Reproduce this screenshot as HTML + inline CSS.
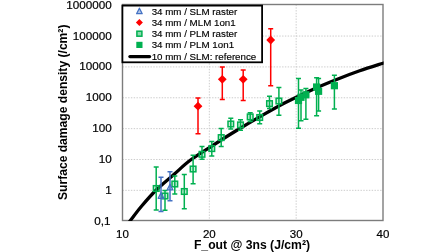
<!DOCTYPE html><html><head><meta charset="utf-8"><style>html,body{margin:0;padding:0;background:#fff}svg{display:block}text{font-family:"Liberation Sans",Arial,sans-serif}</style></head><body>
<svg width="448" height="252" viewBox="0 0 448 252">
<rect width="448" height="252" fill="#fff"/>
<line x1="122.5" x2="383.0" y1="190.34" y2="190.34" stroke="#c6c6c6" stroke-width="0.9" stroke-dasharray="1.4 1.4"/>
<line x1="122.5" x2="383.0" y1="159.49" y2="159.49" stroke="#c6c6c6" stroke-width="0.9" stroke-dasharray="1.4 1.4"/>
<line x1="122.5" x2="383.0" y1="128.63" y2="128.63" stroke="#c6c6c6" stroke-width="0.9" stroke-dasharray="1.4 1.4"/>
<line x1="122.5" x2="383.0" y1="97.77" y2="97.77" stroke="#c6c6c6" stroke-width="0.9" stroke-dasharray="1.4 1.4"/>
<line x1="122.5" x2="383.0" y1="66.91" y2="66.91" stroke="#c6c6c6" stroke-width="0.9" stroke-dasharray="1.4 1.4"/>
<line x1="122.5" x2="383.0" y1="36.06" y2="36.06" stroke="#c6c6c6" stroke-width="0.9" stroke-dasharray="1.4 1.4"/>
<line x1="209.33" x2="209.33" y1="4.5" y2="220.5" stroke="#c6c6c6" stroke-width="0.9" stroke-dasharray="1.4 1.4"/>
<line x1="296.17" x2="296.17" y1="4.5" y2="220.5" stroke="#c6c6c6" stroke-width="0.9" stroke-dasharray="1.4 1.4"/>
<rect x="122.5" y="4.5" width="260.5" height="216.0" fill="none" stroke="#7c7c7c" stroke-width="1.4"/>
<text x="110.6" y="224.70" font-size="11.7" text-anchor="end" fill="#000" stroke="#000" stroke-width="0.2">0,1</text>
<text x="111.7" y="193.84" font-size="11.7" text-anchor="end" fill="#000" stroke="#000" stroke-width="0.2">1</text>
<text x="111.7" y="162.99" font-size="11.7" text-anchor="end" fill="#000" stroke="#000" stroke-width="0.2">10</text>
<text x="111.7" y="132.13" font-size="11.7" text-anchor="end" fill="#000" stroke="#000" stroke-width="0.2">100</text>
<text x="111.7" y="101.27" font-size="11.7" text-anchor="end" fill="#000" stroke="#000" stroke-width="0.2">1000</text>
<text x="111.7" y="70.41" font-size="11.7" text-anchor="end" fill="#000" stroke="#000" stroke-width="0.2">10000</text>
<text x="111.7" y="39.56" font-size="11.7" text-anchor="end" fill="#000" stroke="#000" stroke-width="0.2">100000</text>
<text x="111.7" y="8.70" font-size="11.7" text-anchor="end" fill="#000" stroke="#000" stroke-width="0.2">1000000</text>
<text x="122.50" y="237.9" font-size="11.5" text-anchor="middle" fill="#000" stroke="#000" stroke-width="0.2">10</text>
<text x="209.33" y="237.9" font-size="11.5" text-anchor="middle" fill="#000" stroke="#000" stroke-width="0.2">20</text>
<text x="296.17" y="237.9" font-size="11.5" text-anchor="middle" fill="#000" stroke="#000" stroke-width="0.2">30</text>
<text x="383.00" y="237.9" font-size="11.5" text-anchor="middle" fill="#000" stroke="#000" stroke-width="0.2">40</text>
<text x="252" y="249.3" font-size="12.2" font-weight="bold" text-anchor="middle" fill="#000">F_out @ 3ns (J/cm²)</text>
<text transform="translate(66.9,112.3) rotate(-90)" font-size="12.1" font-weight="bold" text-anchor="middle" fill="#000">Surface damage density (/cm²)</text>
<clipPath id="pc"><rect x="122.5" y="4.5" width="261.1" height="216.5"/></clipPath>
<path d="M126.5,225.6 C127.15,224.75 127.93,223.68 130.4,220.5 C132.87,217.32 137.00,211.58 141.3,206.5 C145.60,201.42 150.68,195.42 156.2,190 C161.72,184.58 168.73,178.95 174.4,174 C180.07,169.05 184.03,164.92 190.2,160.3 C196.37,155.68 203.68,151.27 211.4,146.3 C219.12,141.33 228.53,135.37 236.5,130.5 C244.47,125.63 251.20,121.68 259.2,117.1 C267.20,112.52 275.75,107.53 284.5,103 C293.25,98.47 303.12,93.78 311.7,89.9 C320.28,86.02 328.00,82.88 336,79.7 C344.00,76.52 351.87,73.55 359.7,70.8 C367.53,68.05 377.95,64.83 383,63.2 C388.05,61.57 388.83,61.37 390,61" fill="none" stroke="#000" stroke-width="3.3" stroke-linejoin="round" clip-path="url(#pc)"/>
<path d="M156.2,167 V210 M153.7,167 H158.7 M153.7,210 H158.7" stroke="#00b050" stroke-width="1.5" fill="none"/>
<path d="M165,190.5 V210.2 M162.5,190.5 H167.5 M162.5,210.2 H167.5" stroke="#00b050" stroke-width="1.5" fill="none"/>
<path d="M174.8,176 V194 M172.3,176 H177.3 M172.3,194 H177.3" stroke="#00b050" stroke-width="1.5" fill="none"/>
<path d="M184.3,174.5 V208.8 M181.8,174.5 H186.8 M181.8,208.8 H186.8" stroke="#00b050" stroke-width="1.5" fill="none"/>
<path d="M193.1,155.2 V183.8 M190.6,155.2 H195.6 M190.6,183.8 H195.6" stroke="#00b050" stroke-width="1.5" fill="none"/>
<path d="M202,146.5 V159.3 M199.5,146.5 H204.5 M199.5,159.3 H204.5" stroke="#00b050" stroke-width="1.5" fill="none"/>
<path d="M211.8,141.5 V156 M209.3,141.5 H214.3 M209.3,156 H214.3" stroke="#00b050" stroke-width="1.5" fill="none"/>
<path d="M221.2,128.5 V146.5 M218.7,128.5 H223.7 M218.7,146.5 H223.7" stroke="#00b050" stroke-width="1.5" fill="none"/>
<path d="M230.8,118.2 V129 M228.3,118.2 H233.3 M228.3,129 H233.3" stroke="#00b050" stroke-width="1.5" fill="none"/>
<path d="M240.5,119.7 V130.2 M238.0,119.7 H243.0 M238.0,130.2 H243.0" stroke="#00b050" stroke-width="1.5" fill="none"/>
<path d="M250.2,112.8 V121.5 M247.7,112.8 H252.7 M247.7,121.5 H252.7" stroke="#00b050" stroke-width="1.5" fill="none"/>
<path d="M259.7,111 V123.8 M257.2,111 H262.2 M257.2,123.8 H262.2" stroke="#00b050" stroke-width="1.5" fill="none"/>
<path d="M269.5,96.2 V108.5 M267.0,96.2 H272.0 M267.0,108.5 H272.0" stroke="#00b050" stroke-width="1.5" fill="none"/>
<path d="M278.9,87.5 V115.2 M276.4,87.5 H281.4 M276.4,115.2 H281.4" stroke="#00b050" stroke-width="1.5" fill="none"/>
<path d="M161,177.3 V211.6 M158.5,177.3 H163.5 M158.5,211.6 H163.5" stroke="#4472c4" stroke-width="1.5" fill="none"/>
<path d="M170,171.7 V200.7 M167.5,171.7 H172.5 M167.5,200.7 H172.5" stroke="#4472c4" stroke-width="1.5" fill="none"/>
<path d="M298.5,78.6 V128.2 M296.0,78.6 H301.0 M296.0,128.2 H301.0" stroke="#00b050" stroke-width="1.5" fill="none"/>
<path d="M301,90 V120.8 M298.5,90 H303.5 M298.5,120.8 H303.5" stroke="#00b050" stroke-width="1.5" fill="none"/>
<path d="M305.9,88.6 V119.2 M303.4,88.6 H308.4 M303.4,119.2 H308.4" stroke="#00b050" stroke-width="1.5" fill="none"/>
<path d="M316.6,77.8 V115.7 M314.1,77.8 H319.1 M314.1,115.7 H319.1" stroke="#00b050" stroke-width="1.5" fill="none"/>
<path d="M318.6,78.6 V111 M316.1,78.6 H321.1 M316.1,111 H321.1" stroke="#00b050" stroke-width="1.5" fill="none"/>
<path d="M334.4,75.2 V109 M331.9,75.2 H336.9 M331.9,109 H336.9" stroke="#00b050" stroke-width="1.5" fill="none"/>
<path d="M198,98 V133.8 M195.5,98 H200.5 M195.5,133.8 H200.5" stroke="#ff0000" stroke-width="1.5" fill="none"/>
<path d="M222.3,67 V99.5 M219.8,67 H224.8 M219.8,99.5 H224.8" stroke="#ff0000" stroke-width="1.5" fill="none"/>
<path d="M243.2,70 V100.5 M240.7,70 H245.7 M240.7,100.5 H245.7" stroke="#ff0000" stroke-width="1.5" fill="none"/>
<path d="M270.7,28.8 V85.8 M268.2,28.8 H273.2 M268.2,85.8 H273.2" stroke="#ff0000" stroke-width="1.5" fill="none"/>
<rect x="153.40" y="185.70" width="5.6" height="5.6" fill="rgba(0,176,80,0.22)" stroke="#00b050" stroke-width="1.5"/>
<rect x="162.20" y="193.20" width="5.6" height="5.6" fill="rgba(0,176,80,0.22)" stroke="#00b050" stroke-width="1.5"/>
<rect x="172.00" y="181.20" width="5.6" height="5.6" fill="rgba(0,176,80,0.22)" stroke="#00b050" stroke-width="1.5"/>
<rect x="181.50" y="188.70" width="5.6" height="5.6" fill="rgba(0,176,80,0.22)" stroke="#00b050" stroke-width="1.5"/>
<rect x="190.30" y="166.20" width="5.6" height="5.6" fill="rgba(0,176,80,0.22)" stroke="#00b050" stroke-width="1.5"/>
<rect x="199.20" y="151.50" width="5.6" height="5.6" fill="rgba(0,176,80,0.22)" stroke="#00b050" stroke-width="1.5"/>
<rect x="209.00" y="145.80" width="5.6" height="5.6" fill="rgba(0,176,80,0.22)" stroke="#00b050" stroke-width="1.5"/>
<rect x="218.40" y="134.80" width="5.6" height="5.6" fill="rgba(0,176,80,0.22)" stroke="#00b050" stroke-width="1.5"/>
<rect x="228.00" y="121.20" width="5.6" height="5.6" fill="rgba(0,176,80,0.22)" stroke="#00b050" stroke-width="1.5"/>
<rect x="237.70" y="122.10" width="5.6" height="5.6" fill="rgba(0,176,80,0.22)" stroke="#00b050" stroke-width="1.5"/>
<rect x="247.40" y="114.10" width="5.6" height="5.6" fill="rgba(0,176,80,0.22)" stroke="#00b050" stroke-width="1.5"/>
<rect x="256.90" y="114.70" width="5.6" height="5.6" fill="rgba(0,176,80,0.22)" stroke="#00b050" stroke-width="1.5"/>
<rect x="266.70" y="100.80" width="5.6" height="5.6" fill="rgba(0,176,80,0.22)" stroke="#00b050" stroke-width="1.5"/>
<rect x="276.10" y="98.20" width="5.6" height="5.6" fill="rgba(0,176,80,0.22)" stroke="#00b050" stroke-width="1.5"/>
<path d="M161,192.79999999999998 L163.8,198.29999999999998 L158.2,198.29999999999998 Z" fill="rgba(68,114,196,0.2)" stroke="#4472c4" stroke-width="1.3" stroke-linejoin="round"/>
<path d="M170,184.29999999999998 L172.8,189.79999999999998 L167.2,189.79999999999998 Z" fill="rgba(68,114,196,0.2)" stroke="#4472c4" stroke-width="1.3" stroke-linejoin="round"/>
<rect x="294.90" y="96.90" width="7.2" height="7.2" fill="#00b050"/>
<rect x="297.40" y="93.70" width="7.2" height="7.2" fill="#00b050"/>
<rect x="302.30" y="91.20" width="7.2" height="7.2" fill="#00b050"/>
<rect x="313.00" y="83.40" width="7.2" height="7.2" fill="#00b050"/>
<rect x="315.00" y="87.70" width="7.2" height="7.2" fill="#00b050"/>
<rect x="330.80" y="82.10" width="7.2" height="7.2" fill="#00b050"/>
<path d="M198,101.8 L202.4,106.2 L198,110.60000000000001 L193.6,106.2 Z" fill="#ff0000"/>
<path d="M222.3,74.89999999999999 L226.70000000000002,79.3 L222.3,83.7 L217.9,79.3 Z" fill="#ff0000"/>
<path d="M243.2,74.89999999999999 L247.6,79.3 L243.2,83.7 L238.79999999999998,79.3 Z" fill="#ff0000"/>
<path d="M270.7,35.6 L275.09999999999997,40 L270.7,44.4 L266.3,40 Z" fill="#ff0000"/>
<rect x="122.4" y="5.6" width="139.7" height="56.7" fill="#fff" stroke="#000" stroke-width="1.8"/>
<text x="151.7" y="14.55" font-size="9.75" fill="#000" stroke="#000" stroke-width="0.15">34 mm / SLM raster</text>
<text x="151.7" y="25.85" font-size="9.75" fill="#000" stroke="#000" stroke-width="0.15">34 mm / MLM 1on1</text>
<text x="151.7" y="37.15" font-size="9.75" fill="#000" stroke="#000" stroke-width="0.15">34 mm / PLM raster</text>
<text x="151.7" y="48.35" font-size="9.75" fill="#000" stroke="#000" stroke-width="0.15">34 mm / PLM 1on1</text>
<text x="151.7" y="59.65" font-size="9.75" fill="#000" stroke="#000" stroke-width="0.15">10 mm / SLM: reference</text>
<path d="M139.4,8.2 L142.20000000000002,13.7 L136.6,13.7 Z" fill="rgba(68,114,196,0.4)" stroke="#4472c4" stroke-width="1.3" stroke-linejoin="round"/>
<path d="M139.4,18.9 L142.9,22.4 L139.4,25.9 L135.9,22.4 Z" fill="#ff0000"/>
<rect x="136.90" y="31.20" width="5.0" height="5.0" fill="rgba(0,176,80,0.45)" stroke="#00b050" stroke-width="1.5"/>
<rect x="136.30" y="41.80" width="6.2" height="6.2" fill="#00b050"/>
<line x1="129.9" x2="149.6" y1="56.6" y2="56.6" stroke="#000" stroke-width="3.2" stroke-linecap="round"/>
</svg></body></html>
